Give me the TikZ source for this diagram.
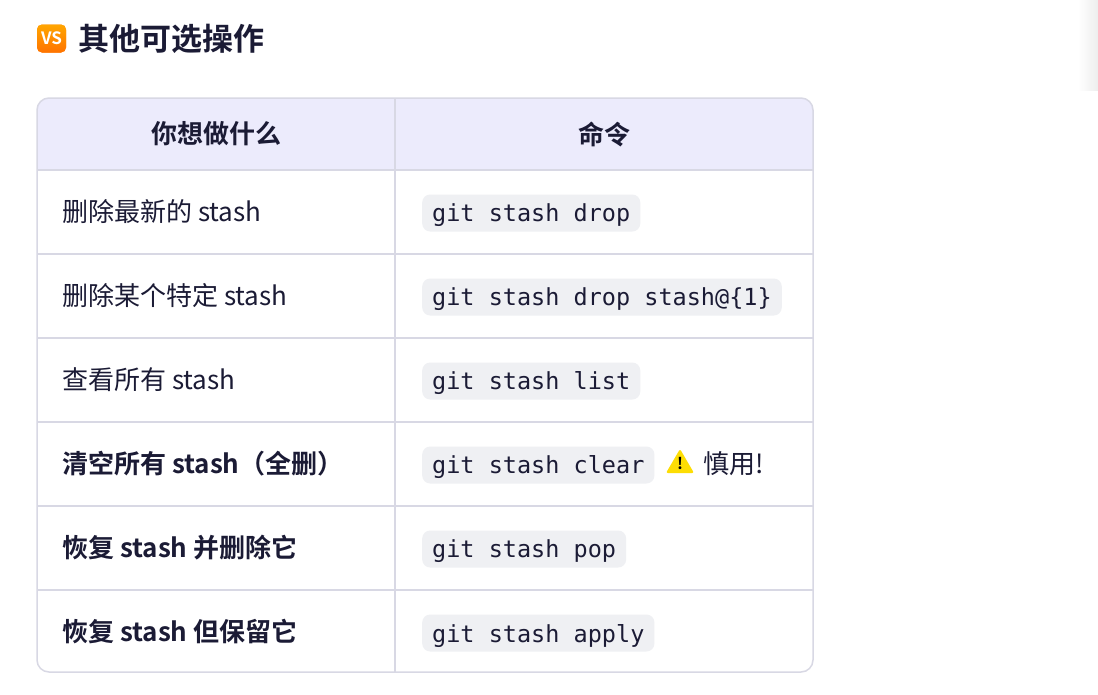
\documentclass[tikz,border=0pt]{standalone}
\usepackage{fontspec}
\newfontfamily\cjk{Noto Sans CJK SC}
\newfontfamily\cjkb{Noto Sans CJK SC Bold}
\newfontfamily\mono{DejaVu Sans Mono}
\definecolor{ink}{HTML}{1B1B35}
\definecolor{bord}{HTML}{D8D8E4}
\definecolor{head}{HTML}{ECEBFC}
\definecolor{codebg}{HTML}{EFF0F3}
\begin{document}
\begin{tikzpicture}[x=1pt,y=-1pt,
  cell/.style={anchor=west,text=ink,font=\cjk\fontsize{26}{30}\selectfont,inner sep=0},
  bcell/.style={cell,font=\cjkb\fontsize{26}{30}\selectfont},
  hcell/.style={text=ink,font=\cjkb\fontsize{26}{30}\selectfont,inner sep=0},
  code/.style={anchor=west,fill=codebg,rounded corners=8,text=ink,font=\mono\fontsize{23.5}{28}\selectfont,inner xsep=10,inner ysep=0,minimum height=37,text depth=0pt}]
\useasboundingbox (0,0) rectangle (1098,694);
\fill[white] (0,0) rectangle (1098,694);
\shade[left color=white,right color=black!7] (1078,0) rectangle (1098,90);
% icon
\node[fill=orange,top color=orange!70!yellow,bottom color=orange!90!red,rounded corners=5,minimum width=29,minimum height=28,inner sep=0,text=white,font=\cjkb\fontsize{17}{17}\selectfont] (vs) at (51.5,38.5) {VS};
\node[anchor=west,inner sep=0,text=ink,font=\cjkb\fontsize{31}{36}\selectfont] (title) at (78,38.5) {其他可选操作};
% table
\begin{scope}
\clip[rounded corners=12] (37,98) rectangle (813,672);
\fill[head] (37,98) rectangle (813,170);
\foreach \y in {170,254,338,422,506,590} \draw[bord,line width=1.2] (37,\y) -- (813,\y);
\draw[bord,line width=1.2] (395,98) -- (395,672);
\end{scope}
\draw[bord,line width=1.5,rounded corners=12] (37,98) rectangle (813,672);
\node[hcell] (h1) at (216,134) {你想做什么};
\node[hcell] (h2) at (604,134) {命令};
\node[cell] (a1) at (62,212) {删除最新的 stash};
\node[cell] (a2) at (62,296) {删除某个特定 stash};
\node[cell] (a3) at (62,380) {查看所有 stash};
\node[bcell] (a4) at (62,464) {清空所有 stash（全删）};
\node[bcell] (a5) at (62,548) {恢复 stash 并删除它};
\node[bcell] (a6) at (62,632) {恢复 stash 但保留它};
\node[code] (c1) at (422,213) {git stash drop};
\node[code] (c2) at (422,297) {git stash drop stash@\{1\}};
\node[code] (c3) at (422,381) {git stash list};
\node[code] (c4) at (422,465) {git stash clear};
\node[code] (c5) at (422,549) {git stash pop};
\node[code] (c6) at (422,633) {git stash apply};
\fill[yellow!80!orange,rounded corners=2] (666,473) -- (680,449) -- (694,473) -- cycle;
\node[inner sep=0,text=black,font=\cjkb\fontsize{16}{16}\selectfont] (warn) at (680,464) {!};
\node[cell] (w) at (703,464) {慎用!};
\end{tikzpicture}
\end{document}
